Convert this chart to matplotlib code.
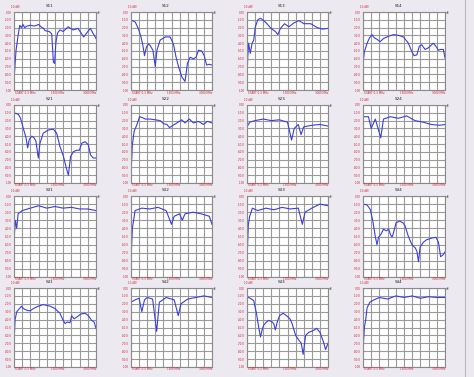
import matplotlib
matplotlib.use("Agg")
import matplotlib.pyplot as plt

# frequency in GHz, magnitude in dB
titles = ["S11", "S12", "S13", "S14",
          "S21", "S22", "S23", "S24",
          "S31", "S32", "S33", "S34",
          "S41", "S42", "S43", "S44"]

s11_f = [0, 0.075, 0.15, 0.21, 0.27, 0.33, 0.39, 0.48, 0.60, 0.75, 0.90, 0.99, 1.08, 1.14, 1.29, 1.38, 1.44, 1.485, 1.53, 1.59, 1.68, 1.80, 1.98, 2.16, 2.34, 2.55, 2.79, 3.0]
s11_db = [-87, -49, -30, -17, -20, -16, -20, -18, -17, -18, -16, -19, -21, -24, -25, -28, -64, -66, -40, -27, -23, -25, -19, -23, -21, -32, -21, -34]

s12_f = [0, 0.16, 0.28, 0.37, 0.44, 0.50, 0.57, 0.65, 0.71, 0.81, 0.90, 0.96, 1.08, 1.27, 1.45, 1.57, 1.67, 1.76, 1.88, 2.00, 2.09, 2.19, 2.31, 2.41, 2.50, 2.62, 2.71, 2.80, 2.90, 3.0]
s12_db = [-10, -13, -22, -32, -43, -56, -45, -41, -43, -49, -70, -49, -36, -32, -32, -41, -58, -70, -83, -89, -66, -58, -60, -58, -49, -50, -56, -68, -67, -68]

s13_f = [0, 0.025, 0.06, 0.12, 0.19, 0.25, 0.31, 0.40, 0.50, 0.62, 0.74, 0.89, 1.05, 1.14, 1.24, 1.39, 1.55, 1.74, 1.92, 2.11, 2.36, 2.60, 2.79, 3.0]
s13_db = [-92, -59, -40, -53, -40, -36, -19, -10, -8, -11, -15, -21, -25, -29, -21, -15, -19, -14, -11, -15, -15, -20, -22, -21]

s14_f = [0, 0.05, 0.15, 0.24, 0.33, 0.41, 0.51, 0.63, 0.75, 0.94, 1.12, 1.30, 1.48, 1.66, 1.79, 1.87, 1.97, 2.06, 2.15, 2.27, 2.39, 2.57, 2.67, 2.76, 2.84, 2.94, 3.0]
s14_db = [-66, -51, -40, -33, -29, -33, -35, -38, -34, -31, -29, -30, -32, -40, -51, -56, -55, -44, -42, -48, -46, -40, -44, -49, -48, -48, -59]

s21_f = [0, 0.16, 0.24, 0.34, 0.44, 0.50, 0.56, 0.65, 0.73, 0.80, 0.89, 0.95, 1.07, 1.26, 1.44, 1.56, 1.68, 1.81, 1.90, 1.99, 2.07, 2.17, 2.29, 2.39, 2.48, 2.60, 2.72, 2.80, 2.90, 3.0]
s21_db = [-10, -12, -17, -30, -42, -55, -44, -40, -42, -46, -68, -49, -36, -32, -31, -36, -53, -66, -79, -90, -66, -60, -58, -58, -49, -47, -51, -64, -68, -68]

s22_f = [0, 0.05, 0.12, 0.20, 0.25, 0.32, 0.41, 0.53, 0.71, 0.90, 1.08, 1.21, 1.33, 1.43, 1.51, 1.70, 1.88, 2.00, 2.16, 2.31, 2.50, 2.68, 2.83, 3.0]
s22_db = [-89, -51, -33, -27, -22, -15, -16, -18, -18, -19, -20, -24, -25, -29, -27, -23, -19, -23, -18, -23, -21, -25, -21, -23]

s23_f = [0, 0.1, 0.3, 0.6, 0.9, 1.2, 1.5, 1.65, 1.75, 1.9, 2.0, 2.1, 2.4, 2.7, 3.0]
s23_db = [-28, -22, -20, -18, -20, -19, -22, -45, -30, -25, -38, -28, -26, -25, -27]

s24_f = [0, 0.2, 0.3, 0.45, 0.65, 0.75, 1.0, 1.3, 1.6, 1.9, 2.2, 2.5, 2.8, 3.0]
s24_db = [-15, -15, -30, -18, -42, -18, -15, -17, -14, -20, -22, -25, -26, -25]

s31_f = [0, 0.05, 0.1, 0.15, 0.3, 0.6, 0.9, 1.2, 1.5, 1.8, 2.1, 2.4, 2.7, 3.0]
s31_db = [-55, -30, -40, -22, -18, -15, -12, -15, -13, -15, -14, -16, -16, -18]

s32_f = [0, 0.05, 0.15, 0.4, 0.7, 1.0, 1.3, 1.5, 1.6, 1.8, 1.9, 2.0, 2.3, 2.6, 2.9, 3.0]
s32_db = [-80, -40, -18, -15, -16, -14, -18, -35, -25, -22, -30, -22, -20, -22, -25, -35]

s33_f = [0, 0.05, 0.1, 0.2, 0.4, 0.7, 1.0, 1.3, 1.6, 1.9, 2.05, 2.15, 2.4, 2.7, 3.0]
s33_db = [-80, -35, -25, -15, -18, -15, -17, -14, -16, -15, -35, -20, -15, -10, -12]

s34_f = [0, 0.15, 0.27, 0.36, 0.45, 0.51, 0.57, 0.66, 0.75, 0.85, 0.94, 1.00, 1.06, 1.12, 1.21, 1.34, 1.46, 1.54, 1.66, 1.79, 1.91, 1.97, 2.03, 2.09, 2.21, 2.33, 2.51, 2.67, 2.76, 2.84, 2.92, 3.0]
s34_db = [-10, -11, -17, -31, -50, -60, -51, -47, -41, -43, -41, -47, -51, -45, -33, -31, -33, -37, -50, -60, -64, -68, -81, -63, -57, -54, -52, -51, -57, -75, -73, -69]

s41_f = [0, 0.04, 0.10, 0.20, 0.28, 0.34, 0.46, 0.59, 0.71, 0.89, 1.07, 1.32, 1.50, 1.68, 1.80, 1.87, 1.95, 2.05, 2.11, 2.20, 2.29, 2.44, 2.60, 2.72, 2.84, 2.93, 3.0]
s41_db = [-70, -40, -30, -26, -23, -26, -28, -29, -26, -23, -21, -23, -26, -32, -41, -45, -43, -44, -35, -39, -37, -33, -32, -35, -41, -43, -51]

s42_f = [0, 0.15, 0.3, 0.4, 0.5, 0.6, 0.8, 0.95, 1.05, 1.3, 1.6, 1.75, 1.85, 2.1, 2.4, 2.7, 3.0]
s42_db = [-18, -15, -13, -30, -15, -12, -14, -55, -18, -12, -15, -35, -20, -14, -12, -10, -12]

s43_f = [0, 0.12, 0.25, 0.35, 0.43, 0.50, 0.56, 0.62, 0.72, 0.81, 0.93, 0.99, 1.05, 1.12, 1.21, 1.34, 1.46, 1.59, 1.67, 1.80, 1.92, 2.01, 2.08, 2.17, 2.29, 2.45, 2.58, 2.70, 2.83, 2.91, 3.0]
s43_db = [-11, -13, -16, -32, -49, -62, -53, -47, -43, -41, -43, -45, -53, -43, -35, -32, -35, -39, -45, -60, -66, -70, -84, -60, -56, -54, -51, -56, -68, -78, -70]

s44_f = [0, 0.05, 0.1, 0.15, 0.25, 0.4, 0.6, 0.9, 1.2, 1.5, 1.8, 2.1, 2.4, 2.7, 3.0]
s44_db = [-80, -50, -40, -25, -18, -15, -12, -14, -10, -12, -10, -13, -11, -12, -12]

traces = [(s11_f, s11_db), (s12_f, s12_db), (s13_f, s13_db), (s14_f, s14_db),
          (s21_f, s21_db), (s22_f, s22_db), (s23_f, s23_db), (s24_f, s24_db),
          (s31_f, s31_db), (s32_f, s32_db), (s33_f, s33_db), (s34_f, s34_db),
          (s41_f, s41_db), (s42_f, s42_db), (s43_f, s43_db), (s44_f, s44_db)]

y_ticks = [0, -10, -20, -30, -40, -50, -60, -70, -80, -90, -100]
y_tick_labels = ["0.00", "-10.0", "-20.0", "-30.0", "-40.0", "-50.0", "-60.0", "-70.0", "-80.0", "-90.0", "-100"]
x_ticks = [0.3 * i for i in range(11)]
start_label = "START 0.3 MHz"
center_label = "1500 MHz"
stop_label = "3000 MHz"
ref_label = "10 dB/"

W, H = 474, 377
fig = plt.figure(figsize=(W / 100, H / 100), dpi=100, facecolor="#eceaf0")

col_left = [14, 131, 247, 363]
col_w = [82, 81, 81, 82]
row_top = [12, 105, 196, 288]
row_h = [78, 78, 81, 79]
red = "#d02030"

for i, (title, (f, db)) in enumerate(zip(titles, traces)):
    r, c = divmod(i, 4)
    l, w, t, h = col_left[c], col_w[c], row_top[r], row_h[r]
    ax = fig.add_axes([l / W, 1 - (t + h) / H, w / W, h / H])
    ax.set_facecolor("white")
    ax.plot(f, db, color="#3a3ee0", lw=0.8)
    ax.set_xlim(0, 3.0)
    ax.set_ylim(-100, 0)
    ax.set_xticks(x_ticks)
    ax.set_yticks(y_ticks)
    ax.set_yticklabels(y_tick_labels, fontsize=2.0, color=red)
    ax.set_xticklabels([])
    ax.tick_params(length=0, pad=1.5)
    ax.grid(True, color="#9a9a9a", lw=0.8)
    for s in ax.spines.values():
        s.set_color("#8a8a8a")
        s.set_linewidth(0.8)
    ax.set_axisbelow(True)
    # header texts
    fig.text((l + 0.43 * w) / W, 1 - (t - 6) / H, title, fontsize=3.0, ha="center", va="center", color="#222222")
    fig.text((l - 3) / W, 1 - (t - 5) / H, ref_label, fontsize=2.0, ha="left", va="center", color=red)
    fig.text((l + w + 1) / W, 1 - (t + 1) / H, "dB", fontsize=2.0, ha="left", va="center", color="#555555")
    # footer texts
    yb = 1 - (t + h + 2.5) / H
    fig.text((l + 1) / W, yb, start_label, fontsize=2.0, ha="left", va="center", color=red)
    fig.text((l + 0.45 * w) / W, yb, center_label, fontsize=2.0, ha="left", va="center", color=red)
    fig.text((l + w) / W, yb, stop_label, fontsize=2.0, ha="right", va="center", color=red)

# right-hand frame strip
fig.add_artist(plt.Line2D([465 / W, 465 / W], [0, 1], color="#b8b8c0", lw=0.8))

fig.savefig("out.png", dpi=100, facecolor=fig.get_facecolor())
